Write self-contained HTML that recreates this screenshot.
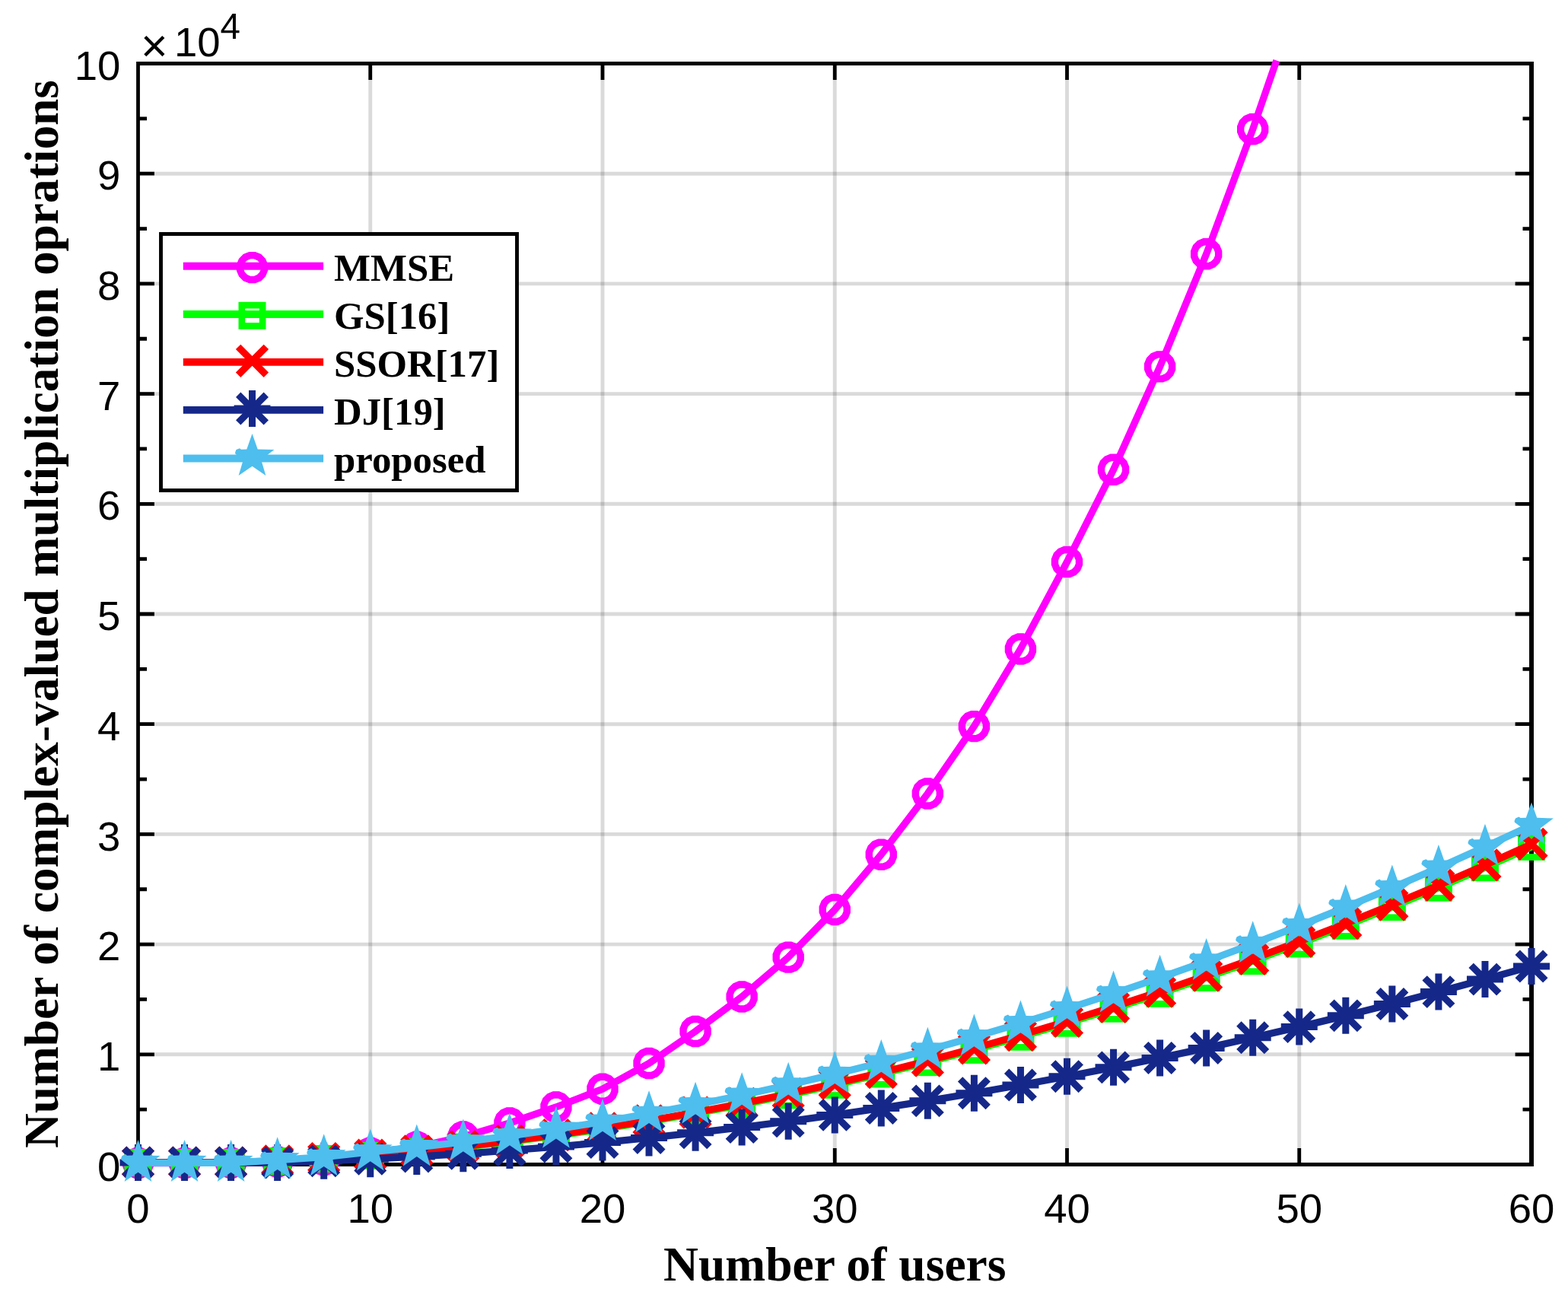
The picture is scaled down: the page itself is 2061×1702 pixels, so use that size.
<!DOCTYPE html>
<html><head><meta charset="utf-8"><style>html,body{margin:0;padding:0;background:#fff;overflow:hidden}svg{display:block}</style></head><body>
<svg width="2061" height="1702" viewBox="0 0 2061 1702">
<rect width="2061" height="1702" fill="#fff"/>
<g stroke="#262626" stroke-opacity="0.17" stroke-width="4.9" fill="none"><path d="M486.75 83.5 V1530.5"/><path d="M792 83.5 V1530.5"/><path d="M1097.25 83.5 V1530.5"/><path d="M1402.5 83.5 V1530.5"/><path d="M1707.75 83.5 V1530.5"/><path d="M181.5 1385.8 H2013"/><path d="M181.5 1241.1 H2013"/><path d="M181.5 1096.4 H2013"/><path d="M181.5 951.7 H2013"/><path d="M181.5 807 H2013"/><path d="M181.5 662.3 H2013"/><path d="M181.5 517.6 H2013"/><path d="M181.5 372.9 H2013"/><path d="M181.5 228.2 H2013"/></g>
<path d="M181.5 1530.5 H2013 V83.5 H181.5 Z M181.5 1530.5 v-21.4 M181.5 83.5 v21.4 M486.75 1530.5 v-21.4 M486.75 83.5 v21.4 M792 1530.5 v-21.4 M792 83.5 v21.4 M1097.25 1530.5 v-21.4 M1097.25 83.5 v21.4 M1402.5 1530.5 v-21.4 M1402.5 83.5 v21.4 M1707.75 1530.5 v-21.4 M1707.75 83.5 v21.4 M2013 1530.5 v-21.4 M2013 83.5 v21.4 M181.5 1530.5 h21.4 M2013 1530.5 h-21.4 M181.5 1385.8 h21.4 M2013 1385.8 h-21.4 M181.5 1241.1 h21.4 M2013 1241.1 h-21.4 M181.5 1096.4 h21.4 M2013 1096.4 h-21.4 M181.5 951.7 h21.4 M2013 951.7 h-21.4 M181.5 807 h21.4 M2013 807 h-21.4 M181.5 662.3 h21.4 M2013 662.3 h-21.4 M181.5 517.6 h21.4 M2013 517.6 h-21.4 M181.5 372.9 h21.4 M2013 372.9 h-21.4 M181.5 228.2 h21.4 M2013 228.2 h-21.4 M181.5 83.5 h21.4 M2013 83.5 h-21.4 M181.5 1458.15 h11.5 M2013 1458.15 h-11.5 M181.5 1313.45 h11.5 M2013 1313.45 h-11.5 M181.5 1168.75 h11.5 M2013 1168.75 h-11.5 M181.5 1024.05 h11.5 M2013 1024.05 h-11.5 M181.5 879.35 h11.5 M2013 879.35 h-11.5 M181.5 734.65 h11.5 M2013 734.65 h-11.5 M181.5 589.95 h11.5 M2013 589.95 h-11.5 M181.5 445.25 h11.5 M2013 445.25 h-11.5 M181.5 300.55 h11.5 M2013 300.55 h-11.5 M181.5 155.85 h11.5 M2013 155.85 h-11.5" stroke="#000" stroke-width="4.8" fill="none" stroke-linejoin="miter"/>
<path d="M2013 81.1 V1532.9" stroke="#000" stroke-width="5.9" fill="none"/>
<path d="M181.5 1528.5 L242.55 1528.5 L303.6 1528.3 L364.65 1527 L425.7 1524.6 L486.75 1515.3 L547.8 1507.3 L608.85 1494 L669.9 1476 L730.95 1455 L792 1431.3 L853.05 1397.5 L914.1 1355.5 L975.15 1310 L1036.2 1258.1 L1097.25 1195.5 L1158.3 1123.1 L1219.35 1043 L1280.4 954.6 L1341.45 853 L1402.5 738.5 L1463.55 617.3 L1524.6 481.9 L1585.65 333.8 L1646.7 169.8 L1677.9 79.4" fill="none" stroke="#ff00ff" stroke-width="9.3" stroke-linejoin="miter" stroke-miterlimit="4"/>
<path d="M197.49 1531.68 L195.05 1537.56 L190.56 1542.05 L184.68 1544.49 L178.32 1544.49 L172.44 1542.05 L167.95 1537.56 L165.51 1531.68 L165.51 1525.32 L167.95 1519.44 L172.44 1514.95 L178.32 1512.51 L184.68 1512.51 L190.56 1514.95 L195.05 1519.44 L197.49 1525.32Z" fill="none" stroke="#ff00ff" stroke-width="9.4"/><path d="M258.54 1531.68 L256.1 1537.56 L251.61 1542.05 L245.73 1544.49 L239.37 1544.49 L233.49 1542.05 L229 1537.56 L226.56 1531.68 L226.56 1525.32 L229 1519.44 L233.49 1514.95 L239.37 1512.51 L245.73 1512.51 L251.61 1514.95 L256.1 1519.44 L258.54 1525.32Z" fill="none" stroke="#ff00ff" stroke-width="9.4"/><path d="M319.59 1531.48 L317.15 1537.36 L312.66 1541.85 L306.78 1544.29 L300.42 1544.29 L294.54 1541.85 L290.05 1537.36 L287.61 1531.48 L287.61 1525.12 L290.05 1519.24 L294.54 1514.75 L300.42 1512.31 L306.78 1512.31 L312.66 1514.75 L317.15 1519.24 L319.59 1525.12Z" fill="none" stroke="#ff00ff" stroke-width="9.4"/><path d="M380.64 1530.18 L378.2 1536.06 L373.71 1540.55 L367.83 1542.99 L361.47 1542.99 L355.59 1540.55 L351.1 1536.06 L348.66 1530.18 L348.66 1523.82 L351.1 1517.94 L355.59 1513.45 L361.47 1511.01 L367.83 1511.01 L373.71 1513.45 L378.2 1517.94 L380.64 1523.82Z" fill="none" stroke="#ff00ff" stroke-width="9.4"/><path d="M441.69 1527.78 L439.25 1533.66 L434.76 1538.15 L428.88 1540.59 L422.52 1540.59 L416.64 1538.15 L412.15 1533.66 L409.71 1527.78 L409.71 1521.42 L412.15 1515.54 L416.64 1511.05 L422.52 1508.61 L428.88 1508.61 L434.76 1511.05 L439.25 1515.54 L441.69 1521.42Z" fill="none" stroke="#ff00ff" stroke-width="9.4"/><path d="M502.74 1518.48 L500.3 1524.36 L495.81 1528.85 L489.93 1531.29 L483.57 1531.29 L477.69 1528.85 L473.2 1524.36 L470.76 1518.48 L470.76 1512.12 L473.2 1506.24 L477.69 1501.75 L483.57 1499.31 L489.93 1499.31 L495.81 1501.75 L500.3 1506.24 L502.74 1512.12Z" fill="none" stroke="#ff00ff" stroke-width="9.4"/><path d="M563.79 1510.48 L561.35 1516.36 L556.86 1520.85 L550.98 1523.29 L544.62 1523.29 L538.74 1520.85 L534.25 1516.36 L531.81 1510.48 L531.81 1504.12 L534.25 1498.24 L538.74 1493.75 L544.62 1491.31 L550.98 1491.31 L556.86 1493.75 L561.35 1498.24 L563.79 1504.12Z" fill="none" stroke="#ff00ff" stroke-width="9.4"/><path d="M624.84 1497.18 L622.4 1503.06 L617.91 1507.55 L612.03 1509.99 L605.67 1509.99 L599.79 1507.55 L595.3 1503.06 L592.86 1497.18 L592.86 1490.82 L595.3 1484.94 L599.79 1480.45 L605.67 1478.01 L612.03 1478.01 L617.91 1480.45 L622.4 1484.94 L624.84 1490.82Z" fill="none" stroke="#ff00ff" stroke-width="9.4"/><path d="M685.89 1479.18 L683.45 1485.06 L678.96 1489.55 L673.08 1491.99 L666.72 1491.99 L660.84 1489.55 L656.35 1485.06 L653.91 1479.18 L653.91 1472.82 L656.35 1466.94 L660.84 1462.45 L666.72 1460.01 L673.08 1460.01 L678.96 1462.45 L683.45 1466.94 L685.89 1472.82Z" fill="none" stroke="#ff00ff" stroke-width="9.4"/><path d="M746.94 1458.18 L744.5 1464.06 L740.01 1468.55 L734.13 1470.99 L727.77 1470.99 L721.89 1468.55 L717.4 1464.06 L714.96 1458.18 L714.96 1451.82 L717.4 1445.94 L721.89 1441.45 L727.77 1439.01 L734.13 1439.01 L740.01 1441.45 L744.5 1445.94 L746.94 1451.82Z" fill="none" stroke="#ff00ff" stroke-width="9.4"/><path d="M807.99 1434.48 L805.55 1440.36 L801.06 1444.85 L795.18 1447.29 L788.82 1447.29 L782.94 1444.85 L778.45 1440.36 L776.01 1434.48 L776.01 1428.12 L778.45 1422.24 L782.94 1417.75 L788.82 1415.31 L795.18 1415.31 L801.06 1417.75 L805.55 1422.24 L807.99 1428.12Z" fill="none" stroke="#ff00ff" stroke-width="9.4"/><path d="M869.04 1400.68 L866.6 1406.56 L862.11 1411.05 L856.23 1413.49 L849.87 1413.49 L843.99 1411.05 L839.5 1406.56 L837.06 1400.68 L837.06 1394.32 L839.5 1388.44 L843.99 1383.95 L849.87 1381.51 L856.23 1381.51 L862.11 1383.95 L866.6 1388.44 L869.04 1394.32Z" fill="none" stroke="#ff00ff" stroke-width="9.4"/><path d="M930.09 1358.68 L927.65 1364.56 L923.16 1369.05 L917.28 1371.49 L910.92 1371.49 L905.04 1369.05 L900.55 1364.56 L898.11 1358.68 L898.11 1352.32 L900.55 1346.44 L905.04 1341.95 L910.92 1339.51 L917.28 1339.51 L923.16 1341.95 L927.65 1346.44 L930.09 1352.32Z" fill="none" stroke="#ff00ff" stroke-width="9.4"/><path d="M991.14 1313.18 L988.7 1319.06 L984.21 1323.55 L978.33 1325.99 L971.97 1325.99 L966.09 1323.55 L961.6 1319.06 L959.16 1313.18 L959.16 1306.82 L961.6 1300.94 L966.09 1296.45 L971.97 1294.01 L978.33 1294.01 L984.21 1296.45 L988.7 1300.94 L991.14 1306.82Z" fill="none" stroke="#ff00ff" stroke-width="9.4"/><path d="M1052.19 1261.28 L1049.75 1267.16 L1045.26 1271.65 L1039.38 1274.09 L1033.02 1274.09 L1027.14 1271.65 L1022.65 1267.16 L1020.21 1261.28 L1020.21 1254.92 L1022.65 1249.04 L1027.14 1244.55 L1033.02 1242.11 L1039.38 1242.11 L1045.26 1244.55 L1049.75 1249.04 L1052.19 1254.92Z" fill="none" stroke="#ff00ff" stroke-width="9.4"/><path d="M1113.24 1198.68 L1110.8 1204.56 L1106.31 1209.05 L1100.43 1211.49 L1094.07 1211.49 L1088.19 1209.05 L1083.7 1204.56 L1081.26 1198.68 L1081.26 1192.32 L1083.7 1186.44 L1088.19 1181.95 L1094.07 1179.51 L1100.43 1179.51 L1106.31 1181.95 L1110.8 1186.44 L1113.24 1192.32Z" fill="none" stroke="#ff00ff" stroke-width="9.4"/><path d="M1174.29 1126.28 L1171.85 1132.16 L1167.36 1136.65 L1161.48 1139.09 L1155.12 1139.09 L1149.24 1136.65 L1144.75 1132.16 L1142.31 1126.28 L1142.31 1119.92 L1144.75 1114.04 L1149.24 1109.55 L1155.12 1107.11 L1161.48 1107.11 L1167.36 1109.55 L1171.85 1114.04 L1174.29 1119.92Z" fill="none" stroke="#ff00ff" stroke-width="9.4"/><path d="M1235.34 1046.18 L1232.9 1052.06 L1228.41 1056.55 L1222.53 1058.99 L1216.17 1058.99 L1210.29 1056.55 L1205.8 1052.06 L1203.36 1046.18 L1203.36 1039.82 L1205.8 1033.94 L1210.29 1029.45 L1216.17 1027.01 L1222.53 1027.01 L1228.41 1029.45 L1232.9 1033.94 L1235.34 1039.82Z" fill="none" stroke="#ff00ff" stroke-width="9.4"/><path d="M1296.39 957.78 L1293.95 963.66 L1289.46 968.15 L1283.58 970.59 L1277.22 970.59 L1271.34 968.15 L1266.85 963.66 L1264.41 957.78 L1264.41 951.42 L1266.85 945.54 L1271.34 941.05 L1277.22 938.61 L1283.58 938.61 L1289.46 941.05 L1293.95 945.54 L1296.39 951.42Z" fill="none" stroke="#ff00ff" stroke-width="9.4"/><path d="M1357.44 856.18 L1355 862.06 L1350.51 866.55 L1344.63 868.99 L1338.27 868.99 L1332.39 866.55 L1327.9 862.06 L1325.46 856.18 L1325.46 849.82 L1327.9 843.94 L1332.39 839.45 L1338.27 837.01 L1344.63 837.01 L1350.51 839.45 L1355 843.94 L1357.44 849.82Z" fill="none" stroke="#ff00ff" stroke-width="9.4"/><path d="M1418.49 741.68 L1416.05 747.56 L1411.56 752.05 L1405.68 754.49 L1399.32 754.49 L1393.44 752.05 L1388.95 747.56 L1386.51 741.68 L1386.51 735.32 L1388.95 729.44 L1393.44 724.95 L1399.32 722.51 L1405.68 722.51 L1411.56 724.95 L1416.05 729.44 L1418.49 735.32Z" fill="none" stroke="#ff00ff" stroke-width="9.4"/><path d="M1479.54 620.48 L1477.1 626.36 L1472.61 630.85 L1466.73 633.29 L1460.37 633.29 L1454.49 630.85 L1450 626.36 L1447.56 620.48 L1447.56 614.12 L1450 608.24 L1454.49 603.75 L1460.37 601.31 L1466.73 601.31 L1472.61 603.75 L1477.1 608.24 L1479.54 614.12Z" fill="none" stroke="#ff00ff" stroke-width="9.4"/><path d="M1540.59 485.08 L1538.15 490.96 L1533.66 495.45 L1527.78 497.89 L1521.42 497.89 L1515.54 495.45 L1511.05 490.96 L1508.61 485.08 L1508.61 478.72 L1511.05 472.84 L1515.54 468.35 L1521.42 465.91 L1527.78 465.91 L1533.66 468.35 L1538.15 472.84 L1540.59 478.72Z" fill="none" stroke="#ff00ff" stroke-width="9.4"/><path d="M1601.64 336.98 L1599.2 342.86 L1594.71 347.35 L1588.83 349.79 L1582.47 349.79 L1576.59 347.35 L1572.1 342.86 L1569.66 336.98 L1569.66 330.62 L1572.1 324.74 L1576.59 320.25 L1582.47 317.81 L1588.83 317.81 L1594.71 320.25 L1599.2 324.74 L1601.64 330.62Z" fill="none" stroke="#ff00ff" stroke-width="9.4"/><path d="M1662.69 172.98 L1660.25 178.86 L1655.76 183.35 L1649.88 185.79 L1643.52 185.79 L1637.64 183.35 L1633.15 178.86 L1630.71 172.98 L1630.71 166.62 L1633.15 160.74 L1637.64 156.25 L1643.52 153.81 L1649.88 153.81 L1655.76 156.25 L1660.25 160.74 L1662.69 166.62Z" fill="none" stroke="#ff00ff" stroke-width="9.4"/>
<path d="M181.5 1528.04 L242.55 1528.04 L303.6 1528.04 L364.65 1526.25 L425.7 1522.98 L486.75 1518.78 L547.8 1513.66 L608.85 1507.61 L669.9 1500.63 L730.95 1492.73 L792 1483.91 L853.05 1474.15 L914.1 1463.47 L975.15 1451.87 L1036.2 1439.34 L1097.25 1425.88 L1158.3 1411.5 L1219.35 1396.19 L1280.4 1379.95 L1341.45 1362.79 L1402.5 1344.71 L1463.55 1325.69 L1524.6 1305.75 L1585.65 1284.89 L1646.7 1263.09 L1707.75 1240.38 L1768.8 1216.73 L1829.85 1192.16 L1890.9 1166.67 L1951.95 1140.24 L2013 1112.9" fill="none" stroke="#00ff00" stroke-width="9.3" stroke-linejoin="miter" stroke-miterlimit="4"/>
<rect x="167.85" y="1514.39" width="27.3" height="27.3" fill="none" stroke="#00ff00" stroke-width="8.7"/><rect x="228.9" y="1514.39" width="27.3" height="27.3" fill="none" stroke="#00ff00" stroke-width="8.7"/><rect x="289.95" y="1514.39" width="27.3" height="27.3" fill="none" stroke="#00ff00" stroke-width="8.7"/><rect x="351" y="1512.6" width="27.3" height="27.3" fill="none" stroke="#00ff00" stroke-width="8.7"/><rect x="412.05" y="1509.33" width="27.3" height="27.3" fill="none" stroke="#00ff00" stroke-width="8.7"/><rect x="473.1" y="1505.13" width="27.3" height="27.3" fill="none" stroke="#00ff00" stroke-width="8.7"/><rect x="534.15" y="1500.01" width="27.3" height="27.3" fill="none" stroke="#00ff00" stroke-width="8.7"/><rect x="595.2" y="1493.96" width="27.3" height="27.3" fill="none" stroke="#00ff00" stroke-width="8.7"/><rect x="656.25" y="1486.98" width="27.3" height="27.3" fill="none" stroke="#00ff00" stroke-width="8.7"/><rect x="717.3" y="1479.08" width="27.3" height="27.3" fill="none" stroke="#00ff00" stroke-width="8.7"/><rect x="778.35" y="1470.26" width="27.3" height="27.3" fill="none" stroke="#00ff00" stroke-width="8.7"/><rect x="839.4" y="1460.5" width="27.3" height="27.3" fill="none" stroke="#00ff00" stroke-width="8.7"/><rect x="900.45" y="1449.82" width="27.3" height="27.3" fill="none" stroke="#00ff00" stroke-width="8.7"/><rect x="961.5" y="1438.22" width="27.3" height="27.3" fill="none" stroke="#00ff00" stroke-width="8.7"/><rect x="1022.55" y="1425.69" width="27.3" height="27.3" fill="none" stroke="#00ff00" stroke-width="8.7"/><rect x="1083.6" y="1412.23" width="27.3" height="27.3" fill="none" stroke="#00ff00" stroke-width="8.7"/><rect x="1144.65" y="1397.85" width="27.3" height="27.3" fill="none" stroke="#00ff00" stroke-width="8.7"/><rect x="1205.7" y="1382.54" width="27.3" height="27.3" fill="none" stroke="#00ff00" stroke-width="8.7"/><rect x="1266.75" y="1366.3" width="27.3" height="27.3" fill="none" stroke="#00ff00" stroke-width="8.7"/><rect x="1327.8" y="1349.14" width="27.3" height="27.3" fill="none" stroke="#00ff00" stroke-width="8.7"/><rect x="1388.85" y="1331.06" width="27.3" height="27.3" fill="none" stroke="#00ff00" stroke-width="8.7"/><rect x="1449.9" y="1312.04" width="27.3" height="27.3" fill="none" stroke="#00ff00" stroke-width="8.7"/><rect x="1510.95" y="1292.1" width="27.3" height="27.3" fill="none" stroke="#00ff00" stroke-width="8.7"/><rect x="1572" y="1271.24" width="27.3" height="27.3" fill="none" stroke="#00ff00" stroke-width="8.7"/><rect x="1633.05" y="1249.44" width="27.3" height="27.3" fill="none" stroke="#00ff00" stroke-width="8.7"/><rect x="1694.1" y="1226.73" width="27.3" height="27.3" fill="none" stroke="#00ff00" stroke-width="8.7"/><rect x="1755.15" y="1203.08" width="27.3" height="27.3" fill="none" stroke="#00ff00" stroke-width="8.7"/><rect x="1816.2" y="1178.51" width="27.3" height="27.3" fill="none" stroke="#00ff00" stroke-width="8.7"/><rect x="1877.25" y="1153.02" width="27.3" height="27.3" fill="none" stroke="#00ff00" stroke-width="8.7"/><rect x="1938.3" y="1126.59" width="27.3" height="27.3" fill="none" stroke="#00ff00" stroke-width="8.7"/><rect x="1999.35" y="1099.25" width="27.3" height="27.3" fill="none" stroke="#00ff00" stroke-width="8.7"/>
<path d="M181.5 1528.04 L242.55 1528.04 L303.6 1528.04 L364.65 1525.9 L425.7 1522.51 L486.75 1518.2 L547.8 1512.96 L608.85 1506.8 L669.9 1499.71 L730.95 1491.69 L792 1482.75 L853.05 1472.88 L914.1 1462.09 L975.15 1450.37 L1036.2 1437.72 L1097.25 1424.15 L1158.3 1409.65 L1219.35 1394.22 L1280.4 1377.87 L1341.45 1360.59 L1402.5 1342.39 L1463.55 1323.26 L1524.6 1303.21 L1585.65 1282.22 L1646.7 1260.32 L1707.75 1237.48 L1768.8 1213.72 L1829.85 1189.04 L1890.9 1163.43 L1951.95 1136.89 L2013 1109.42" fill="none" stroke="#ff0000" stroke-width="9.3" stroke-linejoin="miter" stroke-miterlimit="4"/>
<path d="M163.1 1509.64 L199.9 1546.44 M163.1 1546.44 L199.9 1509.64" stroke="#ff0000" stroke-width="9.1" fill="none"/><path d="M224.15 1509.64 L260.95 1546.44 M224.15 1546.44 L260.95 1509.64" stroke="#ff0000" stroke-width="9.1" fill="none"/><path d="M285.2 1509.64 L322 1546.44 M285.2 1546.44 L322 1509.64" stroke="#ff0000" stroke-width="9.1" fill="none"/><path d="M346.25 1507.5 L383.05 1544.3 M346.25 1544.3 L383.05 1507.5" stroke="#ff0000" stroke-width="9.1" fill="none"/><path d="M407.3 1504.11 L444.1 1540.91 M407.3 1540.91 L444.1 1504.11" stroke="#ff0000" stroke-width="9.1" fill="none"/><path d="M468.35 1499.8 L505.15 1536.6 M468.35 1536.6 L505.15 1499.8" stroke="#ff0000" stroke-width="9.1" fill="none"/><path d="M529.4 1494.56 L566.2 1531.36 M529.4 1531.36 L566.2 1494.56" stroke="#ff0000" stroke-width="9.1" fill="none"/><path d="M590.45 1488.4 L627.25 1525.2 M590.45 1525.2 L627.25 1488.4" stroke="#ff0000" stroke-width="9.1" fill="none"/><path d="M651.5 1481.31 L688.3 1518.11 M651.5 1518.11 L688.3 1481.31" stroke="#ff0000" stroke-width="9.1" fill="none"/><path d="M712.55 1473.29 L749.35 1510.09 M712.55 1510.09 L749.35 1473.29" stroke="#ff0000" stroke-width="9.1" fill="none"/><path d="M773.6 1464.35 L810.4 1501.15 M773.6 1501.15 L810.4 1464.35" stroke="#ff0000" stroke-width="9.1" fill="none"/><path d="M834.65 1454.48 L871.45 1491.28 M834.65 1491.28 L871.45 1454.48" stroke="#ff0000" stroke-width="9.1" fill="none"/><path d="M895.7 1443.69 L932.5 1480.49 M895.7 1480.49 L932.5 1443.69" stroke="#ff0000" stroke-width="9.1" fill="none"/><path d="M956.75 1431.97 L993.55 1468.77 M956.75 1468.77 L993.55 1431.97" stroke="#ff0000" stroke-width="9.1" fill="none"/><path d="M1017.8 1419.32 L1054.6 1456.12 M1017.8 1456.12 L1054.6 1419.32" stroke="#ff0000" stroke-width="9.1" fill="none"/><path d="M1078.85 1405.75 L1115.65 1442.55 M1078.85 1442.55 L1115.65 1405.75" stroke="#ff0000" stroke-width="9.1" fill="none"/><path d="M1139.9 1391.25 L1176.7 1428.05 M1139.9 1428.05 L1176.7 1391.25" stroke="#ff0000" stroke-width="9.1" fill="none"/><path d="M1200.95 1375.82 L1237.75 1412.62 M1200.95 1412.62 L1237.75 1375.82" stroke="#ff0000" stroke-width="9.1" fill="none"/><path d="M1262 1359.47 L1298.8 1396.27 M1262 1396.27 L1298.8 1359.47" stroke="#ff0000" stroke-width="9.1" fill="none"/><path d="M1323.05 1342.19 L1359.85 1378.99 M1323.05 1378.99 L1359.85 1342.19" stroke="#ff0000" stroke-width="9.1" fill="none"/><path d="M1384.1 1323.99 L1420.9 1360.79 M1384.1 1360.79 L1420.9 1323.99" stroke="#ff0000" stroke-width="9.1" fill="none"/><path d="M1445.15 1304.86 L1481.95 1341.66 M1445.15 1341.66 L1481.95 1304.86" stroke="#ff0000" stroke-width="9.1" fill="none"/><path d="M1506.2 1284.81 L1543 1321.61 M1506.2 1321.61 L1543 1284.81" stroke="#ff0000" stroke-width="9.1" fill="none"/><path d="M1567.25 1263.82 L1604.05 1300.62 M1567.25 1300.62 L1604.05 1263.82" stroke="#ff0000" stroke-width="9.1" fill="none"/><path d="M1628.3 1241.92 L1665.1 1278.72 M1628.3 1278.72 L1665.1 1241.92" stroke="#ff0000" stroke-width="9.1" fill="none"/><path d="M1689.35 1219.08 L1726.15 1255.88 M1689.35 1255.88 L1726.15 1219.08" stroke="#ff0000" stroke-width="9.1" fill="none"/><path d="M1750.4 1195.32 L1787.2 1232.12 M1750.4 1232.12 L1787.2 1195.32" stroke="#ff0000" stroke-width="9.1" fill="none"/><path d="M1811.45 1170.64 L1848.25 1207.44 M1811.45 1207.44 L1848.25 1170.64" stroke="#ff0000" stroke-width="9.1" fill="none"/><path d="M1872.5 1145.03 L1909.3 1181.83 M1872.5 1181.83 L1909.3 1145.03" stroke="#ff0000" stroke-width="9.1" fill="none"/><path d="M1933.55 1118.49 L1970.35 1155.29 M1933.55 1155.29 L1970.35 1118.49" stroke="#ff0000" stroke-width="9.1" fill="none"/><path d="M1994.6 1091.02 L2031.4 1127.82 M1994.6 1127.82 L2031.4 1091.02" stroke="#ff0000" stroke-width="9.1" fill="none"/>
<path d="M181.5 1527.9 L242.55 1527.9 L303.6 1527.9 L364.65 1527.9 L425.7 1525.87 L486.75 1523.27 L547.8 1520.08 L608.85 1516.32 L669.9 1511.98 L730.95 1507.06 L792 1501.56 L853.05 1495.48 L914.1 1488.83 L975.15 1481.59 L1036.2 1473.78 L1097.25 1465.38 L1158.3 1456.41 L1219.35 1446.86 L1280.4 1436.73 L1341.45 1426.03 L1402.5 1414.74 L1463.55 1402.87 L1524.6 1390.43 L1585.65 1377.41 L1646.7 1363.81 L1707.75 1349.62 L1768.8 1334.87 L1829.85 1319.53 L1890.9 1303.61 L1951.95 1287.11 L2013 1270.04" fill="none" stroke="#15288a" stroke-width="9.3" stroke-linejoin="miter" stroke-miterlimit="4"/>
<path d="M163.2 1509.6 L199.8 1546.2 M163.2 1546.2 L199.8 1509.6 M181.5 1503.9 L181.5 1551.9 M157.5 1527.9 L205.5 1527.9" stroke="#15288a" stroke-width="9" fill="none"/><path d="M224.25 1509.6 L260.85 1546.2 M224.25 1546.2 L260.85 1509.6 M242.55 1503.9 L242.55 1551.9 M218.55 1527.9 L266.55 1527.9" stroke="#15288a" stroke-width="9" fill="none"/><path d="M285.3 1509.6 L321.9 1546.2 M285.3 1546.2 L321.9 1509.6 M303.6 1503.9 L303.6 1551.9 M279.6 1527.9 L327.6 1527.9" stroke="#15288a" stroke-width="9" fill="none"/><path d="M346.35 1509.6 L382.95 1546.2 M346.35 1546.2 L382.95 1509.6 M364.65 1503.9 L364.65 1551.9 M340.65 1527.9 L388.65 1527.9" stroke="#15288a" stroke-width="9" fill="none"/><path d="M407.4 1507.57 L444 1544.17 M407.4 1544.17 L444 1507.57 M425.7 1501.87 L425.7 1549.87 M401.7 1525.87 L449.7 1525.87" stroke="#15288a" stroke-width="9" fill="none"/><path d="M468.45 1504.97 L505.05 1541.57 M468.45 1541.57 L505.05 1504.97 M486.75 1499.27 L486.75 1547.27 M462.75 1523.27 L510.75 1523.27" stroke="#15288a" stroke-width="9" fill="none"/><path d="M529.5 1501.78 L566.1 1538.38 M529.5 1538.38 L566.1 1501.78 M547.8 1496.08 L547.8 1544.08 M523.8 1520.08 L571.8 1520.08" stroke="#15288a" stroke-width="9" fill="none"/><path d="M590.55 1498.02 L627.15 1534.62 M590.55 1534.62 L627.15 1498.02 M608.85 1492.32 L608.85 1540.32 M584.85 1516.32 L632.85 1516.32" stroke="#15288a" stroke-width="9" fill="none"/><path d="M651.6 1493.68 L688.2 1530.28 M651.6 1530.28 L688.2 1493.68 M669.9 1487.98 L669.9 1535.98 M645.9 1511.98 L693.9 1511.98" stroke="#15288a" stroke-width="9" fill="none"/><path d="M712.65 1488.76 L749.25 1525.36 M712.65 1525.36 L749.25 1488.76 M730.95 1483.06 L730.95 1531.06 M706.95 1507.06 L754.95 1507.06" stroke="#15288a" stroke-width="9" fill="none"/><path d="M773.7 1483.26 L810.3 1519.86 M773.7 1519.86 L810.3 1483.26 M792 1477.56 L792 1525.56 M768 1501.56 L816 1501.56" stroke="#15288a" stroke-width="9" fill="none"/><path d="M834.75 1477.18 L871.35 1513.78 M834.75 1513.78 L871.35 1477.18 M853.05 1471.48 L853.05 1519.48 M829.05 1495.48 L877.05 1495.48" stroke="#15288a" stroke-width="9" fill="none"/><path d="M895.8 1470.53 L932.4 1507.13 M895.8 1507.13 L932.4 1470.53 M914.1 1464.83 L914.1 1512.83 M890.1 1488.83 L938.1 1488.83" stroke="#15288a" stroke-width="9" fill="none"/><path d="M956.85 1463.29 L993.45 1499.89 M956.85 1499.89 L993.45 1463.29 M975.15 1457.59 L975.15 1505.59 M951.15 1481.59 L999.15 1481.59" stroke="#15288a" stroke-width="9" fill="none"/><path d="M1017.9 1455.48 L1054.5 1492.08 M1017.9 1492.08 L1054.5 1455.48 M1036.2 1449.78 L1036.2 1497.78 M1012.2 1473.78 L1060.2 1473.78" stroke="#15288a" stroke-width="9" fill="none"/><path d="M1078.95 1447.09 L1115.55 1483.68 M1078.95 1483.68 L1115.55 1447.09 M1097.25 1441.38 L1097.25 1489.38 M1073.25 1465.38 L1121.25 1465.38" stroke="#15288a" stroke-width="9" fill="none"/><path d="M1140 1438.11 L1176.6 1474.71 M1140 1474.71 L1176.6 1438.11 M1158.3 1432.41 L1158.3 1480.41 M1134.3 1456.41 L1182.3 1456.41" stroke="#15288a" stroke-width="9" fill="none"/><path d="M1201.05 1428.56 L1237.65 1465.16 M1201.05 1465.16 L1237.65 1428.56 M1219.35 1422.86 L1219.35 1470.86 M1195.35 1446.86 L1243.35 1446.86" stroke="#15288a" stroke-width="9" fill="none"/><path d="M1262.1 1418.43 L1298.7 1455.03 M1262.1 1455.03 L1298.7 1418.43 M1280.4 1412.73 L1280.4 1460.73 M1256.4 1436.73 L1304.4 1436.73" stroke="#15288a" stroke-width="9" fill="none"/><path d="M1323.15 1407.73 L1359.75 1444.33 M1323.15 1444.33 L1359.75 1407.73 M1341.45 1402.03 L1341.45 1450.03 M1317.45 1426.03 L1365.45 1426.03" stroke="#15288a" stroke-width="9" fill="none"/><path d="M1384.2 1396.44 L1420.8 1433.04 M1384.2 1433.04 L1420.8 1396.44 M1402.5 1390.74 L1402.5 1438.74 M1378.5 1414.74 L1426.5 1414.74" stroke="#15288a" stroke-width="9" fill="none"/><path d="M1445.25 1384.57 L1481.85 1421.17 M1445.25 1421.17 L1481.85 1384.57 M1463.55 1378.87 L1463.55 1426.87 M1439.55 1402.87 L1487.55 1402.87" stroke="#15288a" stroke-width="9" fill="none"/><path d="M1506.3 1372.13 L1542.9 1408.73 M1506.3 1408.73 L1542.9 1372.13 M1524.6 1366.43 L1524.6 1414.43 M1500.6 1390.43 L1548.6 1390.43" stroke="#15288a" stroke-width="9" fill="none"/><path d="M1567.35 1359.11 L1603.95 1395.71 M1567.35 1395.71 L1603.95 1359.11 M1585.65 1353.41 L1585.65 1401.41 M1561.65 1377.41 L1609.65 1377.41" stroke="#15288a" stroke-width="9" fill="none"/><path d="M1628.4 1345.51 L1665 1382.11 M1628.4 1382.11 L1665 1345.51 M1646.7 1339.81 L1646.7 1387.81 M1622.7 1363.81 L1670.7 1363.81" stroke="#15288a" stroke-width="9" fill="none"/><path d="M1689.45 1331.33 L1726.05 1367.92 M1689.45 1367.92 L1726.05 1331.33 M1707.75 1325.62 L1707.75 1373.62 M1683.75 1349.62 L1731.75 1349.62" stroke="#15288a" stroke-width="9" fill="none"/><path d="M1750.5 1316.57 L1787.1 1353.17 M1750.5 1353.17 L1787.1 1316.57 M1768.8 1310.87 L1768.8 1358.87 M1744.8 1334.87 L1792.8 1334.87" stroke="#15288a" stroke-width="9" fill="none"/><path d="M1811.55 1301.23 L1848.15 1337.83 M1811.55 1337.83 L1848.15 1301.23 M1829.85 1295.53 L1829.85 1343.53 M1805.85 1319.53 L1853.85 1319.53" stroke="#15288a" stroke-width="9" fill="none"/><path d="M1872.6 1285.31 L1909.2 1321.91 M1872.6 1321.91 L1909.2 1285.31 M1890.9 1279.61 L1890.9 1327.61 M1866.9 1303.61 L1914.9 1303.61" stroke="#15288a" stroke-width="9" fill="none"/><path d="M1933.65 1268.81 L1970.25 1305.41 M1933.65 1305.41 L1970.25 1268.81 M1951.95 1263.11 L1951.95 1311.11 M1927.95 1287.11 L1975.95 1287.11" stroke="#15288a" stroke-width="9" fill="none"/><path d="M1994.7 1251.74 L2031.3 1288.34 M1994.7 1288.34 L2031.3 1251.74 M2013 1246.04 L2013 1294.04 M1989 1270.04 L2037 1270.04" stroke="#15288a" stroke-width="9" fill="none"/>
<path d="M181.5 1528.4 L242.55 1528.4 L303.6 1528.4 L364.65 1524.71 L425.7 1520.6 L486.75 1513.86 L547.8 1507.81 L608.85 1500.84 L669.9 1492.94 L730.95 1484.11 L792 1474.36 L853.05 1463.68 L914.1 1452.07 L975.15 1439.54 L1036.2 1426.08 L1097.25 1411.7 L1158.3 1396.39 L1219.35 1380.16 L1280.4 1363 L1341.45 1344.91 L1402.5 1325.89 L1463.55 1305.95 L1524.6 1285.09 L1585.65 1263.3 L1646.7 1240.58 L1707.75 1216.94 L1768.8 1192.37 L1829.85 1166.87 L1890.9 1140.45 L1951.95 1113.1 L2013 1084.82" fill="none" stroke="#4dbeee" stroke-width="9.3" stroke-linejoin="miter" stroke-miterlimit="4"/>
<path d="M181.5 1498 L188.73 1518.45 L210.41 1519.01 L193.2 1532.2 L199.37 1553 L181.5 1540.7 L163.63 1553 L169.8 1532.2 L159.3 1524.3 L159.1 1522.4 L160.5 1519 L165 1517.1 L167 1518.7 L174.27 1518.45Z" fill="#4dbeee"/><path d="M242.55 1498 L249.78 1518.45 L271.46 1519.01 L254.25 1532.2 L260.42 1553 L242.55 1540.7 L224.68 1553 L230.85 1532.2 L220.35 1524.3 L220.15 1522.4 L221.55 1519 L226.05 1517.1 L228.05 1518.7 L235.32 1518.45Z" fill="#4dbeee"/><path d="M303.6 1498 L310.83 1518.45 L332.51 1519.01 L315.3 1532.2 L321.47 1553 L303.6 1540.7 L285.73 1553 L291.9 1532.2 L281.4 1524.3 L281.2 1522.4 L282.6 1519 L287.1 1517.1 L289.1 1518.7 L296.37 1518.45Z" fill="#4dbeee"/><path d="M364.65 1494.31 L371.88 1514.76 L393.56 1515.32 L376.35 1528.51 L382.52 1549.31 L364.65 1537.01 L346.78 1549.31 L352.95 1528.51 L342.45 1520.61 L342.25 1518.71 L343.65 1515.31 L348.15 1513.41 L350.15 1515.01 L357.42 1514.76Z" fill="#4dbeee"/><path d="M425.7 1490.2 L432.93 1510.65 L454.61 1511.21 L437.4 1524.4 L443.57 1545.2 L425.7 1532.9 L407.83 1545.2 L414 1524.4 L403.5 1516.5 L403.3 1514.6 L404.7 1511.2 L409.2 1509.3 L411.2 1510.9 L418.47 1510.65Z" fill="#4dbeee"/><path d="M486.75 1483.46 L493.98 1503.91 L515.66 1504.47 L498.45 1517.66 L504.62 1538.45 L486.75 1526.16 L468.88 1538.45 L475.05 1517.66 L464.55 1509.76 L464.35 1507.86 L465.75 1504.46 L470.25 1502.56 L472.25 1504.16 L479.52 1503.91Z" fill="#4dbeee"/><path d="M547.8 1477.41 L555.03 1497.86 L576.71 1498.42 L559.5 1511.61 L565.67 1532.41 L547.8 1520.11 L529.93 1532.41 L536.1 1511.61 L525.6 1503.71 L525.4 1501.81 L526.8 1498.41 L531.3 1496.51 L533.3 1498.11 L540.57 1497.86Z" fill="#4dbeee"/><path d="M608.85 1470.44 L616.08 1490.89 L637.76 1491.44 L620.55 1504.64 L626.72 1525.43 L608.85 1513.14 L590.98 1525.43 L597.15 1504.64 L586.65 1496.74 L586.45 1494.84 L587.85 1491.44 L592.35 1489.54 L594.35 1491.14 L601.62 1490.89Z" fill="#4dbeee"/><path d="M669.9 1462.54 L677.13 1482.98 L698.81 1483.54 L681.6 1496.74 L687.77 1517.53 L669.9 1505.24 L652.03 1517.53 L658.2 1496.74 L647.7 1488.84 L647.5 1486.94 L648.9 1483.54 L653.4 1481.64 L655.4 1483.24 L662.67 1482.98Z" fill="#4dbeee"/><path d="M730.95 1453.71 L738.18 1474.16 L759.86 1474.72 L742.65 1487.91 L748.82 1508.7 L730.95 1496.41 L713.08 1508.7 L719.25 1487.91 L708.75 1480.01 L708.55 1478.11 L709.95 1474.71 L714.45 1472.81 L716.45 1474.41 L723.72 1474.16Z" fill="#4dbeee"/><path d="M792 1443.96 L799.23 1464.41 L820.91 1464.96 L803.7 1478.16 L809.87 1498.95 L792 1486.66 L774.13 1498.95 L780.3 1478.16 L769.8 1470.26 L769.6 1468.36 L771 1464.96 L775.5 1463.06 L777.5 1464.66 L784.77 1464.41Z" fill="#4dbeee"/><path d="M853.05 1433.28 L860.28 1453.73 L881.96 1454.28 L864.75 1467.48 L870.92 1488.27 L853.05 1475.98 L835.18 1488.27 L841.35 1467.48 L830.85 1459.58 L830.65 1457.68 L832.05 1454.28 L836.55 1452.38 L838.55 1453.98 L845.82 1453.73Z" fill="#4dbeee"/><path d="M914.1 1421.67 L921.33 1442.12 L943.01 1442.68 L925.8 1455.87 L931.97 1476.67 L914.1 1464.37 L896.23 1476.67 L902.4 1455.87 L891.9 1447.97 L891.7 1446.07 L893.1 1442.67 L897.6 1440.77 L899.6 1442.37 L906.87 1442.12Z" fill="#4dbeee"/><path d="M975.15 1409.14 L982.38 1429.59 L1004.06 1430.15 L986.85 1443.34 L993.02 1464.14 L975.15 1451.84 L957.28 1464.14 L963.45 1443.34 L952.95 1435.44 L952.75 1433.54 L954.15 1430.14 L958.65 1428.24 L960.65 1429.84 L967.92 1429.59Z" fill="#4dbeee"/><path d="M1036.2 1395.68 L1043.43 1416.13 L1065.11 1416.69 L1047.9 1429.89 L1054.07 1450.68 L1036.2 1438.38 L1018.33 1450.68 L1024.5 1429.89 L1014 1421.98 L1013.8 1420.08 L1015.2 1416.68 L1019.7 1414.78 L1021.7 1416.38 L1028.97 1416.13Z" fill="#4dbeee"/><path d="M1097.25 1381.3 L1104.48 1401.75 L1126.16 1402.31 L1108.95 1415.5 L1115.12 1436.3 L1097.25 1424 L1079.38 1436.3 L1085.55 1415.5 L1075.05 1407.6 L1074.85 1405.7 L1076.25 1402.3 L1080.75 1400.4 L1082.75 1402 L1090.02 1401.75Z" fill="#4dbeee"/><path d="M1158.3 1365.99 L1165.53 1386.44 L1187.21 1387 L1170 1400.19 L1176.17 1420.99 L1158.3 1408.69 L1140.43 1420.99 L1146.6 1400.19 L1136.1 1392.29 L1135.9 1390.39 L1137.3 1386.99 L1141.8 1385.09 L1143.8 1386.69 L1151.07 1386.44Z" fill="#4dbeee"/><path d="M1219.35 1349.76 L1226.58 1370.21 L1248.26 1370.76 L1231.05 1383.96 L1237.22 1404.75 L1219.35 1392.46 L1201.48 1404.75 L1207.65 1383.96 L1197.15 1376.06 L1196.95 1374.16 L1198.35 1370.76 L1202.85 1368.86 L1204.85 1370.46 L1212.12 1370.21Z" fill="#4dbeee"/><path d="M1280.4 1332.6 L1287.63 1353.04 L1309.31 1353.6 L1292.1 1366.8 L1298.27 1387.59 L1280.4 1375.3 L1262.53 1387.59 L1268.7 1366.8 L1258.2 1358.9 L1258 1357 L1259.4 1353.6 L1263.9 1351.7 L1265.9 1353.3 L1273.17 1353.04Z" fill="#4dbeee"/><path d="M1341.45 1314.51 L1348.68 1334.96 L1370.36 1335.51 L1353.15 1348.71 L1359.32 1369.5 L1341.45 1357.21 L1323.58 1369.5 L1329.75 1348.71 L1319.25 1340.81 L1319.05 1338.91 L1320.45 1335.51 L1324.95 1333.61 L1326.95 1335.21 L1334.22 1334.96Z" fill="#4dbeee"/><path d="M1402.5 1295.49 L1409.73 1315.94 L1431.41 1316.5 L1414.2 1329.7 L1420.37 1350.49 L1402.5 1338.19 L1384.63 1350.49 L1390.8 1329.7 L1380.3 1321.79 L1380.1 1319.89 L1381.5 1316.49 L1386 1314.59 L1388 1316.19 L1395.27 1315.94Z" fill="#4dbeee"/><path d="M1463.55 1275.55 L1470.78 1296 L1492.46 1296.56 L1475.25 1309.76 L1481.42 1330.55 L1463.55 1318.25 L1445.68 1330.55 L1451.85 1309.76 L1441.35 1301.85 L1441.15 1299.95 L1442.55 1296.55 L1447.05 1294.65 L1449.05 1296.25 L1456.32 1296Z" fill="#4dbeee"/><path d="M1524.6 1254.69 L1531.83 1275.14 L1553.51 1275.69 L1536.3 1288.89 L1542.47 1309.68 L1524.6 1297.39 L1506.73 1309.68 L1512.9 1288.89 L1502.4 1280.99 L1502.2 1279.09 L1503.6 1275.69 L1508.1 1273.79 L1510.1 1275.39 L1517.37 1275.14Z" fill="#4dbeee"/><path d="M1585.65 1232.9 L1592.88 1253.35 L1614.56 1253.9 L1597.35 1267.1 L1603.52 1287.89 L1585.65 1275.6 L1567.78 1287.89 L1573.95 1267.1 L1563.45 1259.2 L1563.25 1257.3 L1564.65 1253.9 L1569.15 1252 L1571.15 1253.6 L1578.42 1253.35Z" fill="#4dbeee"/><path d="M1646.7 1210.18 L1653.93 1230.63 L1675.61 1231.18 L1658.4 1244.38 L1664.57 1265.17 L1646.7 1252.88 L1628.83 1265.17 L1635 1244.38 L1624.5 1236.48 L1624.3 1234.58 L1625.7 1231.18 L1630.2 1229.28 L1632.2 1230.88 L1639.47 1230.63Z" fill="#4dbeee"/><path d="M1707.75 1186.54 L1714.98 1206.98 L1736.66 1207.54 L1719.45 1220.74 L1725.62 1241.53 L1707.75 1229.24 L1689.88 1241.53 L1696.05 1220.74 L1685.55 1212.84 L1685.35 1210.94 L1686.75 1207.54 L1691.25 1205.64 L1693.25 1207.24 L1700.52 1206.98Z" fill="#4dbeee"/><path d="M1768.8 1161.97 L1776.03 1182.41 L1797.71 1182.97 L1780.5 1196.17 L1786.67 1216.96 L1768.8 1204.67 L1750.93 1216.96 L1757.1 1196.17 L1746.6 1188.27 L1746.4 1186.37 L1747.8 1182.97 L1752.3 1181.07 L1754.3 1182.67 L1761.57 1182.41Z" fill="#4dbeee"/><path d="M1829.85 1136.47 L1837.08 1156.92 L1858.76 1157.47 L1841.55 1170.67 L1847.72 1191.46 L1829.85 1179.17 L1811.98 1191.46 L1818.15 1170.67 L1807.65 1162.77 L1807.45 1160.87 L1808.85 1157.47 L1813.35 1155.57 L1815.35 1157.17 L1822.62 1156.92Z" fill="#4dbeee"/><path d="M1890.9 1110.05 L1898.13 1130.5 L1919.81 1131.05 L1902.6 1144.25 L1908.77 1165.04 L1890.9 1152.75 L1873.03 1165.04 L1879.2 1144.25 L1868.7 1136.35 L1868.5 1134.45 L1869.9 1131.05 L1874.4 1129.15 L1876.4 1130.75 L1883.67 1130.5Z" fill="#4dbeee"/><path d="M1951.95 1082.7 L1959.18 1103.15 L1980.86 1103.7 L1963.65 1116.9 L1969.82 1137.69 L1951.95 1125.4 L1934.08 1137.69 L1940.25 1116.9 L1929.75 1109 L1929.55 1107.1 L1930.95 1103.7 L1935.45 1101.8 L1937.45 1103.4 L1944.72 1103.15Z" fill="#4dbeee"/><path d="M2013 1054.42 L2020.23 1074.87 L2041.91 1075.43 L2024.7 1088.62 L2030.87 1109.42 L2013 1097.12 L1995.13 1109.42 L2001.3 1088.62 L1990.8 1080.72 L1990.6 1078.82 L1992 1075.42 L1996.5 1073.52 L1998.5 1075.12 L2005.77 1074.87Z" fill="#4dbeee"/>
<rect x="211.5" y="307.5" width="468" height="337" fill="#fff" stroke="#000" stroke-width="4.9"/>
<path d="M240.8 349.8 H425.1" stroke="#ff00ff" stroke-width="9.9"/>
<path d="M347.49 354.78 L345.05 360.66 L340.56 365.15 L334.68 367.59 L328.32 367.59 L322.44 365.15 L317.95 360.66 L315.51 354.78 L315.51 348.42 L317.95 342.54 L322.44 338.05 L328.32 335.61 L334.68 335.61 L340.56 338.05 L345.05 342.54 L347.49 348.42Z" fill="none" stroke="#ff00ff" stroke-width="9.4"/>
<path d="M240.8 413 H425.1" stroke="#00ff00" stroke-width="9.9"/>
<rect x="317.85" y="401.15" width="27.3" height="27.3" fill="none" stroke="#00ff00" stroke-width="8.7"/>
<path d="M240.8 475.9 H425.1" stroke="#ff0000" stroke-width="9.9"/>
<path d="M313.1 455.9 L349.9 492.7 M313.1 492.7 L349.9 455.9" stroke="#ff0000" stroke-width="9.1" fill="none"/>
<path d="M240.8 538.9 H425.1" stroke="#15288a" stroke-width="9.9"/>
<path d="M313.2 518.8 L349.8 555.4 M313.2 555.4 L349.8 518.8 M331.5 513.1 L331.5 561.1 M307.5 537.1 L355.5 537.1" stroke="#15288a" stroke-width="9" fill="none"/>
<path d="M240.8 602.5 H425.1" stroke="#4dbeee" stroke-width="9.9"/>
<path d="M331.5 570.1 L338.73 590.55 L360.41 591.11 L343.2 604.3 L349.37 625.09 L331.5 612.8 L313.63 625.09 L319.8 604.3 L309.3 596.4 L309.1 594.5 L310.5 591.1 L315 589.2 L317 590.8 L324.27 590.55Z" fill="#4dbeee"/>
<text x="439" y="369" font-family="Liberation Serif, serif" font-weight="bold" font-size="50.8">MMSE</text>
<text x="439" y="432.3" font-family="Liberation Serif, serif" font-weight="bold" font-size="50.8">GS[16]</text>
<text x="439" y="494.9" font-family="Liberation Serif, serif" font-weight="bold" font-size="50.8">SSOR[17]</text>
<text x="439" y="557.8" font-family="Liberation Serif, serif" font-weight="bold" font-size="50.8">DJ[19]</text>
<text x="439" y="621" font-family="Liberation Serif, serif" font-weight="bold" font-size="50.8">proposed</text>
<text x="181.5" y="1607.3" text-anchor="middle" font-family="Liberation Sans, Arial, sans-serif" font-size="54.5">0</text>
<text x="486.75" y="1607.3" text-anchor="middle" font-family="Liberation Sans, Arial, sans-serif" font-size="54.5">10</text>
<text x="792" y="1607.3" text-anchor="middle" font-family="Liberation Sans, Arial, sans-serif" font-size="54.5">20</text>
<text x="1097.25" y="1607.3" text-anchor="middle" font-family="Liberation Sans, Arial, sans-serif" font-size="54.5">30</text>
<text x="1402.5" y="1607.3" text-anchor="middle" font-family="Liberation Sans, Arial, sans-serif" font-size="54.5">40</text>
<text x="1707.75" y="1607.3" text-anchor="middle" font-family="Liberation Sans, Arial, sans-serif" font-size="54.5">50</text>
<text x="2013" y="1607.3" text-anchor="middle" font-family="Liberation Sans, Arial, sans-serif" font-size="54.5">60</text>
<text x="158.3" y="1551.6" text-anchor="end" font-family="Liberation Sans, Arial, sans-serif" font-size="54.5">0</text>
<text x="158.3" y="1406.9" text-anchor="end" font-family="Liberation Sans, Arial, sans-serif" font-size="54.5">1</text>
<text x="158.3" y="1262.2" text-anchor="end" font-family="Liberation Sans, Arial, sans-serif" font-size="54.5">2</text>
<text x="158.3" y="1117.5" text-anchor="end" font-family="Liberation Sans, Arial, sans-serif" font-size="54.5">3</text>
<text x="158.3" y="972.8" text-anchor="end" font-family="Liberation Sans, Arial, sans-serif" font-size="54.5">4</text>
<text x="158.3" y="828.1" text-anchor="end" font-family="Liberation Sans, Arial, sans-serif" font-size="54.5">5</text>
<text x="158.3" y="683.4" text-anchor="end" font-family="Liberation Sans, Arial, sans-serif" font-size="54.5">6</text>
<text x="158.3" y="538.7" text-anchor="end" font-family="Liberation Sans, Arial, sans-serif" font-size="54.5">7</text>
<text x="158.3" y="394" text-anchor="end" font-family="Liberation Sans, Arial, sans-serif" font-size="54.5">8</text>
<text x="158.3" y="249.3" text-anchor="end" font-family="Liberation Sans, Arial, sans-serif" font-size="54.5">9</text>
<text x="158.3" y="104.6" text-anchor="end" font-family="Liberation Sans, Arial, sans-serif" font-size="54.5">10</text>
<text x="185" y="81" font-family="Liberation Sans, Arial, sans-serif" font-size="61">&#215;</text>
<text x="229" y="74" font-family="Liberation Sans, Arial, sans-serif" font-size="54.5">10</text>
<text x="289.5" y="50.5" font-family="Liberation Sans, Arial, sans-serif" font-size="47.5">4</text>
<text x="1097.3" y="1683" text-anchor="middle" font-family="Liberation Serif, serif" font-weight="bold" font-size="63.5">Number of users</text>
<text transform="translate(75.5 807) rotate(-90)" x="0" y="0" text-anchor="middle" font-family="Liberation Serif, serif" font-weight="bold" font-size="63.4">Number of complex-valued multiplication oprations</text>
</svg>
</body></html>
